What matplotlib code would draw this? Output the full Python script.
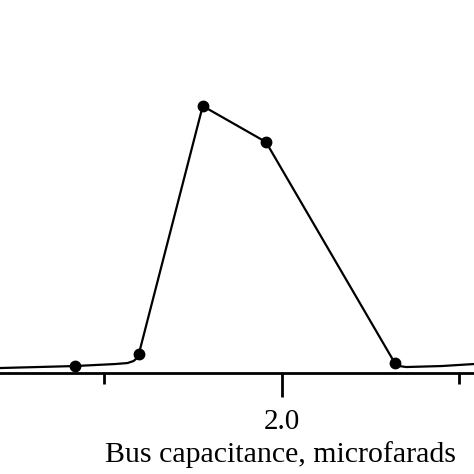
import matplotlib
matplotlib.use("Agg")
import matplotlib.pyplot as plt

# Measured points (bus capacitance in microfarads, response in arbitrary units)
marker_x = [1.417, 1.597, 1.777, 1.955, 2.318]
marker_y = [7, 19, 267, 231, 10]

# Drawn curve including smooth transitions near the baseline
curve_x = [1.206, 1.417, 1.530, 1.565, 1.582, 1.592, 1.597, 1.777, 1.955, 2.318, 2.330, 2.350, 2.450, 2.541]
curve_y = [5, 7, 9, 10, 12, 15, 19, 267, 231, 10, 7, 6, 7, 9]

major_ticks = [2.0]
major_labels = ["2.0"]
minor_ticks = [1.5, 2.5]
xlabel = "Bus capacitance, microfarads"

plt.rcParams['font.family'] = ['Liberation Serif', 'DejaVu Serif']

fig = plt.figure(figsize=(4.74, 4.74), dpi=100)
ax = fig.add_axes([0.0, 0.213, 1.0, 0.787])
ax.plot(curve_x, curve_y, color='black', lw=1.6)
ax.plot(marker_x, marker_y, 'o', color='black', ms=7.5)
ax.set_xlim(1.206, 2.541)
ax.set_ylim(0, 373)
for s in ['top', 'left', 'right']:
    ax.spines[s].set_visible(False)
ax.spines['bottom'].set_linewidth(2)
ax.set_yticks([])
ax.set_xticks(major_ticks)
ax.set_xticklabels(major_labels)
ax.set_xticks(minor_ticks, minor=True)
ax.tick_params(axis='x', which='major', length=17, width=2, direction='out', labelsize=21, pad=9)
ax.tick_params(axis='x', which='minor', length=8, width=2, direction='out')
ax.set_xlabel(xlabel, fontsize=21.5, va='baseline')
ax.xaxis.set_label_coords(280.5 / 474, -89 / 373)
fig.savefig("out.png", dpi=100)
